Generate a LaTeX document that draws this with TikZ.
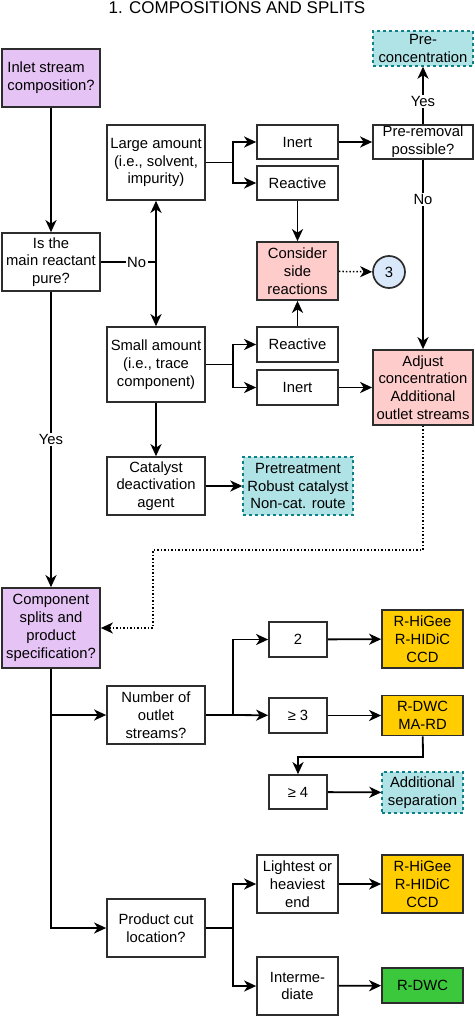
\documentclass[tikz,border=0pt]{standalone}
\usepackage{fontspec}
\setmainfont{Liberation Sans}
\usetikzlibrary{arrows.meta}
\definecolor{boxline}{RGB}{45,45,45}
\definecolor{querypurple}{RGB}{230,195,245}
\definecolor{sidepink}{RGB}{255,204,204}
\definecolor{linkblue}{RGB}{218,232,252}
\definecolor{optioncyan}{RGB}{176,227,230}
\definecolor{optionteal}{RGB}{14,128,136}
\definecolor{unitgold}{RGB}{255,205,0}
\definecolor{unitgreen}{RGB}{60,200,60}

\begin{document}
\begin{tikzpicture}[x=1pt, y=-1pt]
            \tikzstyle{every node} = [font=\fontsize{14.8}{17.8}\selectfont, align=center, inner sep=0pt]
            \tikzstyle{plain} = [draw=boxline, line width=1.7pt, fill=white, rectangle]
            \tikzstyle{query} = [plain, fill=querypurple]
            \tikzstyle{side} = [plain, fill=sidepink]
            \tikzstyle{option} = [draw=optionteal, line width=1.4pt, dashed, fill=optioncyan, rectangle]
            \tikzstyle{unit} = [plain, fill=unitgold]
            \tikzstyle{arrow} = [line width=1.8pt, -{Stealth[length=12pt,width=11pt,inset=3.5pt]}]
            \tikzstyle{link} = [line width=1.8pt]
            \tikzstyle{dotline} = [line width=1.5pt, dash pattern=on 1.5pt off 2pt]
            \tikzstyle{lbl} = [fill=white, inner sep=1.5pt]
            \useasboundingbox (0,0) rectangle (474,1016);

            \node[anchor=base] (title) at (237,13.5) {\fontsize{17}{20}\selectfont 1. COMPOSITIONS AND SPLITS};

            \node[query, minimum width=98, minimum height=58, align=left] (inlet) at (51,78) {Inlet stream\\composition?};
            \node[plain, minimum width=98, minimum height=58] (pure) at (51,262) {Is the\\main reactant\\pure?};
            \node[query, minimum width=98, minimum height=80] (splits) at (51,628) {Component\\splits and\\product\\specification?};

            \node[plain, minimum width=98, minimum height=75] (large) at (156,162.5) {Large amount\\(i.e., solvent,\\impurity)};
            \node[plain, minimum width=98, minimum height=75] (small) at (156,364.5) {Small amount\\(i.e., trace\\component)};
            \node[plain, minimum width=98, minimum height=58] (catalyst) at (156,486) {Catalyst\\deactivation\\agent};
            \node[plain, minimum width=98, minimum height=58] (outlets) at (156,715) {Number of\\outlet\\streams?};
            \node[plain, minimum width=98, minimum height=58] (cut) at (156,928) {Product cut\\location?};

            \node[plain, minimum width=81, minimum height=34] (inertA) at (297.5,142) {Inert};
            \node[plain, minimum width=81, minimum height=34] (reactA) at (297.5,183) {Reactive};
            \node[side, minimum width=81, minimum height=58] (sidereac) at (297.5,271) {Consider\\side\\reactions};
            \node[plain, minimum width=81, minimum height=35] (reactB) at (297.5,344.5) {Reactive};
            \node[plain, minimum width=81, minimum height=35] (inertB) at (297.5,387.5) {Inert};
            \node[option, minimum width=110, minimum height=58] (pretreat) at (298,486) {Pretreatment\\Robust catalyst\\Non-cat. route};
            \node[plain, minimum width=58, minimum height=35] (two) at (298,639.5) {2};
            \node[plain, minimum width=58, minimum height=35] (three) at (298,715.5) {≥ 3};
            \node[plain, minimum width=58, minimum height=34] (four) at (298,792) {≥ 4};
            \node[plain, minimum width=81, minimum height=58] (lightest) at (297.5,884) {Lightest or\\heaviest\\end};
            \node[plain, minimum width=81, minimum height=58] (middle) at (297.5,986) {Interme-\\diate};

            \node[draw=boxline, line width=1.7pt, fill=linkblue, circle, minimum size=32] (goto) at (389,272) {3};

            \node[option, minimum width=100, minimum height=35] (precon) at (423,48.5) {Pre-\\concentration};
            \node[plain, minimum width=100, minimum height=34] (removal) at (423,142) {Pre-removal\\possible?};
            \node[side, minimum width=100, minimum height=75] (adjust) at (423,387.5) {Adjust\\concentration\\Additional\\outlet streams};
            \node[unit, minimum width=81, minimum height=58] (higeeA) at (422.5,639) {R-HiGee\\R-HIDiC\\CCD};
            \node[unit, minimum width=81, minimum height=40] (dwcA) at (422.5,715.5) {R-DWC\\MA-RD};
            \node[option, minimum width=81, minimum height=41] (addsep) at (422.5,792.5) {Additional\\separation};
            \node[unit, minimum width=81, minimum height=58] (higeeB) at (422.5,884) {R-HiGee\\R-HIDiC\\CCD};
            \node[plain, fill=unitgreen, minimum width=81, minimum height=35] (dwcB) at (422.5,985.5) {R-DWC};

            \coordinate (forkL) at (233,162.5);
            \coordinate (forkS) at (233,364.5);
            \coordinate (forkN) at (233,715);
            \coordinate (forkP) at (233,928);
            \coordinate (bendR) at (423,757);
            \coordinate (dotA) at (423,550);
            \coordinate (dotB) at (153,550);
            \coordinate (dotC) at (153,628);

            \draw[arrow] (inlet) -- (pure);
            \draw[arrow] (pure) -- node[lbl]{Yes} (splits);
            \draw[link] (pure) -- node[lbl, pos=.65]{No} (pure -| large);
            \draw[arrow] (pure -| large) -- (large);
            \draw[arrow] (pure -| large) -- (small);

            \draw[link] (large) -- (forkL);
            \draw[arrow] (forkL) |- (inertA);
            \draw[arrow] (forkL) |- (reactA);
            \draw[arrow] (inertA) -- (removal);
            \draw[arrow] (removal) -- node[lbl, pos=.39]{Yes} (precon);
            \draw[arrow] (removal) -- node[lbl, pos=.21]{No} (adjust);
            \draw[arrow] (reactA) -- (sidereac);
            \draw[arrow] (reactB) -- (sidereac);
            \draw[dotline, -{Stealth[length=12pt,width=11pt,inset=3.5pt]}] (sidereac) -- (goto);

            \draw[link] (small) -- (forkS);
            \draw[arrow] (forkS) |- (reactB);
            \draw[arrow] (forkS) |- (inertB);
            \draw[arrow] (inertB) -- (adjust);
            \draw[arrow] (small) -- (catalyst);
            \draw[arrow] (catalyst) -- (pretreat);
            \draw[dotline, -{Stealth[length=12pt,width=11pt,inset=3.5pt]}] (adjust) -- (dotA) -- (dotB) -- (dotC) -- (splits);

            \draw[arrow] (splits) |- (cut);
            \draw[arrow] (splits.south |- outlets) -- (outlets);
            \draw[link] (outlets) -- (forkN);
            \draw[arrow] (forkN) |- (two);
            \draw[arrow] (forkN) -- (three);
            \draw[arrow] (two) -- (higeeA);
            \draw[arrow] (three) -- (dwcA);
            \draw[arrow] (dwcA) -- (bendR) -| (four);
            \draw[arrow] (four) -- (addsep);

            \draw[link] (cut) -- (forkP);
            \draw[arrow] (forkP) |- (lightest);
            \draw[arrow] (forkP) |- (middle);
            \draw[arrow] (lightest) -- (higeeB);
            \draw[arrow] (middle) -- (dwcB);
        \end{tikzpicture}
\end{document}
